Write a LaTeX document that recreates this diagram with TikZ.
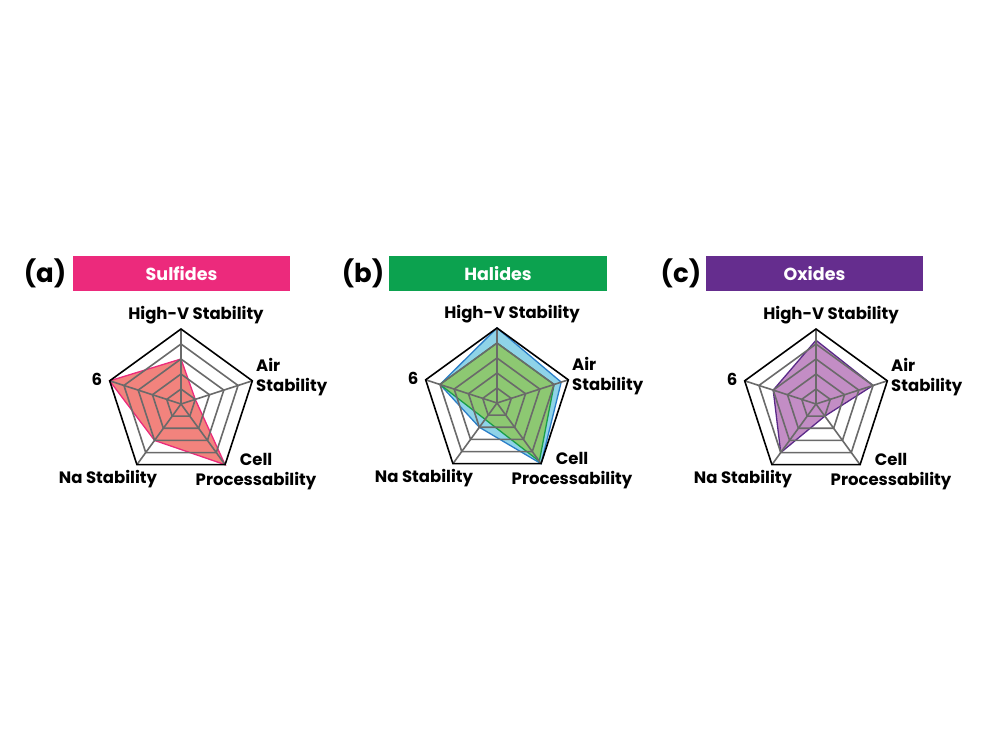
\documentclass[tikz,border=0pt]{standalone}
\usepackage{fontspec}
\setmainfont{Poppins}
\definecolor{pinkbar}{HTML}{EC2A7C}
\definecolor{pinkfill}{HTML}{F2837D}
\definecolor{greenbar}{HTML}{0CA24F}
\definecolor{greenfill}{HTML}{8DC872}
\definecolor{greenedge}{HTML}{1A9E48}
\definecolor{bluefill}{HTML}{8FD3E8}
\definecolor{blueedge}{HTML}{2B7FC9}
\definecolor{purplebar}{HTML}{652D8E}
\definecolor{purplefill}{HTML}{C38DC5}
\definecolor{purpleedge}{HTML}{5A2A88}
\definecolor{gridgrey}{HTML}{6A6A6A}
\tikzset{
  lbl/.style={font=\fontsize{16.5}{20}\selectfont\bfseries, text=black, inner sep=0pt, align=center},
  bartxt/.style={font=\fontsize{17.5}{19}\selectfont\bfseries, text=white},
  letter/.style={font=\fontsize{26}{28}\selectfont\bfseries, inner sep=0pt},
  grid/.style={draw=gridgrey, line width=1.6pt, line join=round},
  outer/.style={draw=black, line width=1.6pt, line join=miter}
}
\newcommand{\rp}[4]{({#1+75*#4*cos(90-72*#3)},{#2-75*#4*sin(90-72*#3)})}
\newcommand{\drawgrid}[2]{%
  \foreach \r in {0.2,0.4,0.6,0.8}{
    \draw[grid] \rp{#1}{#2}{0}{\r} -- \rp{#1}{#2}{1}{\r} -- \rp{#1}{#2}{2}{\r} -- \rp{#1}{#2}{3}{\r} -- \rp{#1}{#2}{4}{\r} -- cycle;}
  \foreach \k in {0,...,4}{\draw[grid] (#1,#2) -- \rp{#1}{#2}{\k}{1};}
  \draw[outer] \rp{#1}{#2}{0}{1} -- \rp{#1}{#2}{1}{1} -- \rp{#1}{#2}{2}{1} -- \rp{#1}{#2}{3}{1} -- \rp{#1}{#2}{4}{1} -- cycle;
}
\newcommand{\labels}[2]{%
  \node[lbl] at (#1+15,#2-89) {High-V Stability};
  \node[lbl, align=left, anchor=west] at (#1+75,#2-27) {Air\\Stability};
  \node[lbl] at (#1+75,#2+68) {Cell\\Processability};
  \node[lbl] at (#1-73,#2+75) {Na Stability};
  \node[lbl] at (#1-84,#2-25) {6};
}
\begin{document}
\begin{tikzpicture}[x=1pt,y=-1pt]
\useasboundingbox (0,0) rectangle (1000,750);
\fill[white] (0,0) rectangle (1000,750);
% ---- (a)
\node[letter] (la) at (45,273) {(a)};
\node[fill=pinkbar, minimum width=217pt, minimum height=35pt, bartxt] (ba) at (181.5,273.5) {Sulfides};
\def\cx{181}\def\cy{404}
\fill[pinkfill] \rp{\cx}{\cy}{0}{0.6} -- \rp{\cx}{\cy}{1}{0.2} -- \rp{\cx}{\cy}{2}{1} -- \rp{\cx}{\cy}{3}{0.6} -- \rp{\cx}{\cy}{4}{1} -- cycle;
\draw[pinkbar, line width=1.3pt] \rp{\cx}{\cy}{0}{0.6} -- \rp{\cx}{\cy}{1}{0.2} -- \rp{\cx}{\cy}{2}{1} -- \rp{\cx}{\cy}{3}{0.6} -- \rp{\cx}{\cy}{4}{1} -- cycle;
\drawgrid{\cx}{\cy}
\labels{\cx}{\cy}
% ---- (b)
\node[letter] (lb) at (363,273) {(b)};
\node[fill=greenbar, minimum width=218pt, minimum height=35pt, bartxt] (bb) at (498,273.5) {Halides};
\def\cx{497}\def\cy{403}
\fill[bluefill] \rp{\cx}{\cy}{0}{1} -- \rp{\cx}{\cy}{1}{0.9} -- \rp{\cx}{\cy}{2}{1} -- \rp{\cx}{\cy}{3}{0.4} -- \rp{\cx}{\cy}{4}{0.8} -- cycle;
\draw[blueedge, line width=1.3pt] \rp{\cx}{\cy}{0}{1} -- \rp{\cx}{\cy}{1}{0.9} -- \rp{\cx}{\cy}{2}{1} -- \rp{\cx}{\cy}{3}{0.4} -- \rp{\cx}{\cy}{4}{0.8} -- cycle;
\fill[greenfill] \rp{\cx}{\cy}{0}{0.8} -- \rp{\cx}{\cy}{1}{0.8} -- \rp{\cx}{\cy}{2}{0.96} -- \rp{\cx}{\cy}{4}{0.8} -- cycle;
\draw[greenedge, line width=1.3pt] \rp{\cx}{\cy}{0}{0.8} -- \rp{\cx}{\cy}{1}{0.8} -- \rp{\cx}{\cy}{2}{0.96} -- \rp{\cx}{\cy}{4}{0.8} -- cycle;
\drawgrid{\cx}{\cy}
\labels{\cx}{\cy}
% ---- (c)
\node[letter] (lc) at (681,273) {(c)};
\node[fill=purplebar, minimum width=217pt, minimum height=35pt, bartxt] (bc) at (814.5,273.5) {Oxides};
\def\cx{816}\def\cy{404}
\fill[purplefill] \rp{\cx}{\cy}{0}{0.85} -- \rp{\cx}{\cy}{1}{0.8} -- \rp{\cx}{\cy}{2}{0.2} -- \rp{\cx}{\cy}{3}{0.8} -- \rp{\cx}{\cy}{4}{0.6} -- cycle;
\draw[purpleedge, line width=1.3pt] \rp{\cx}{\cy}{0}{0.85} -- \rp{\cx}{\cy}{1}{0.8} -- \rp{\cx}{\cy}{2}{0.2} -- \rp{\cx}{\cy}{3}{0.8} -- \rp{\cx}{\cy}{4}{0.6} -- cycle;
\drawgrid{\cx}{\cy}
\labels{\cx}{\cy}
\end{tikzpicture}
\end{document}
